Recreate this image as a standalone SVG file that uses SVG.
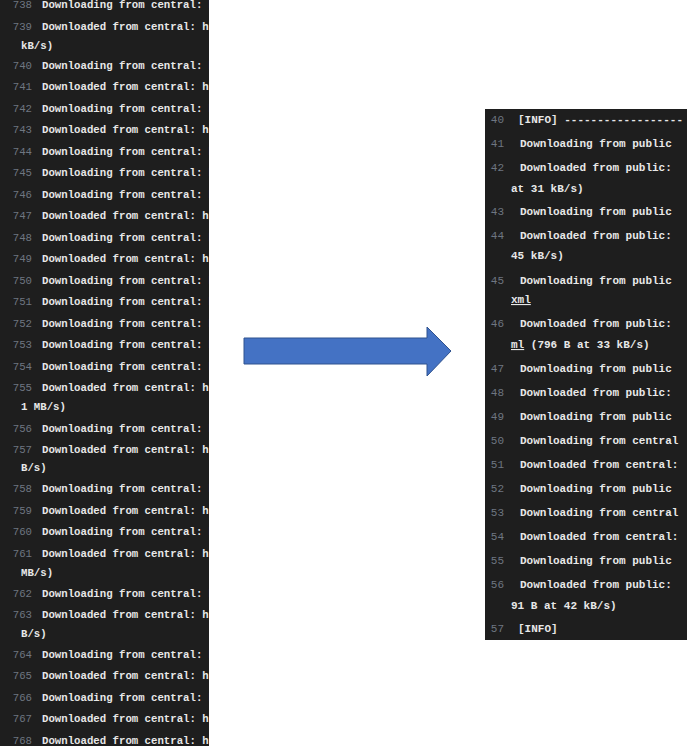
<svg xmlns="http://www.w3.org/2000/svg" width="687" height="746" viewBox="0 0 687 746">
<style>
.n{font-family:"Liberation Mono",monospace;font-size:10.7px;fill:#6e7681;text-anchor:end}
.t{font-family:"Liberation Mono",monospace;font-size:10.7px;fill:#e8e8e8;font-weight:bold}
.r{font-size:11px}
</style>
<defs>
<clipPath id="cl"><rect x="0" y="0" width="209" height="746"/></clipPath>
<clipPath id="cr"><rect x="485" y="109" width="202" height="531"/></clipPath>
</defs>
<rect width="687" height="746" fill="#ffffff"/>
<g id="left" clip-path="url(#cl)">
<rect x="0" y="0" width="209" height="746" fill="#1e1e1e"/>
<text class="n" x="32" y="8">738</text><text class="t" x="42" y="8">Downloading from central: h</text>
<text class="n" x="32" y="30">739</text><text class="t" x="42" y="30">Downloaded from central: h</text>
<text class="t" x="21" y="49">kB/s)</text>
<text class="n" x="32" y="69">740</text><text class="t" x="42" y="69">Downloading from central: h</text>
<text class="n" x="32" y="90">741</text><text class="t" x="42" y="90">Downloaded from central: h</text>
<text class="n" x="32" y="112">742</text><text class="t" x="42" y="112">Downloading from central: h</text>
<text class="n" x="32" y="133">743</text><text class="t" x="42" y="133">Downloaded from central: h</text>
<text class="n" x="32" y="155">744</text><text class="t" x="42" y="155">Downloading from central: h</text>
<text class="n" x="32" y="176">745</text><text class="t" x="42" y="176">Downloading from central: h</text>
<text class="n" x="32" y="198">746</text><text class="t" x="42" y="198">Downloading from central: h</text>
<text class="n" x="32" y="219">747</text><text class="t" x="42" y="219">Downloaded from central: h</text>
<text class="n" x="32" y="241">748</text><text class="t" x="42" y="241">Downloading from central: h</text>
<text class="n" x="32" y="262">749</text><text class="t" x="42" y="262">Downloaded from central: h</text>
<text class="n" x="32" y="284">750</text><text class="t" x="42" y="284">Downloading from central: h</text>
<text class="n" x="32" y="305">751</text><text class="t" x="42" y="305">Downloading from central: h</text>
<text class="n" x="32" y="327">752</text><text class="t" x="42" y="327">Downloading from central: h</text>
<text class="n" x="32" y="348">753</text><text class="t" x="42" y="348">Downloading from central: h</text>
<text class="n" x="32" y="370">754</text><text class="t" x="42" y="370">Downloading from central: h</text>
<text class="n" x="32" y="391">755</text><text class="t" x="42" y="391">Downloaded from central: h</text>
<text class="t" x="21" y="410">1 MB/s)</text>
<text class="n" x="32" y="432">756</text><text class="t" x="42" y="432">Downloading from central: h</text>
<text class="n" x="32" y="453">757</text><text class="t" x="42" y="453">Downloaded from central: h</text>
<text class="t" x="21" y="471">B/s)</text>
<text class="n" x="32" y="492">758</text><text class="t" x="42" y="492">Downloading from central: h</text>
<text class="n" x="32" y="514">759</text><text class="t" x="42" y="514">Downloaded from central: h</text>
<text class="n" x="32" y="535">760</text><text class="t" x="42" y="535">Downloading from central: h</text>
<text class="n" x="32" y="557">761</text><text class="t" x="42" y="557">Downloaded from central: h</text>
<text class="t" x="21" y="576">MB/s)</text>
<text class="n" x="32" y="597">762</text><text class="t" x="42" y="597">Downloading from central: h</text>
<text class="n" x="32" y="618">763</text><text class="t" x="42" y="618">Downloaded from central: h</text>
<text class="t" x="21" y="637">B/s)</text>
<text class="n" x="32" y="658">764</text><text class="t" x="42" y="658">Downloading from central: h</text>
<text class="n" x="32" y="679">765</text><text class="t" x="42" y="679">Downloaded from central: h</text>
<text class="n" x="32" y="701">766</text><text class="t" x="42" y="701">Downloading from central: h</text>
<text class="n" x="32" y="722">767</text><text class="t" x="42" y="722">Downloaded from central: h</text>
<text class="n" x="32" y="744">768</text><text class="t" x="42" y="744">Downloaded from central: h</text>
</g>
<g id="arrow">
<path d="M244,338 H427 V327 L451,351 L427,376 V364 H244 Z" fill="#4472c4" stroke="#2f528f" stroke-width="1"/>
</g>
<g id="right" clip-path="url(#cr)">
<rect x="485" y="109" width="202" height="531" fill="#1e1e1e"/>
<text class="n r" x="504" y="123">40</text><text class="t r" x="518" y="123">[INFO] ------------------</text>
<text class="n r" x="504" y="147">41</text><text class="t r" x="520" y="147">Downloading from public</text>
<text class="n r" x="504" y="171">42</text><text class="t r" x="520" y="171">Downloaded from public:</text>
<text class="t r" x="511" y="192">at 31 kB/s)</text>
<text class="n r" x="504" y="215">43</text><text class="t r" x="520" y="215">Downloading from public</text>
<text class="n r" x="504" y="239">44</text><text class="t r" x="520" y="239">Downloaded from public:</text>
<text class="t r" x="511" y="259">45 kB/s)</text>
<text class="n r" x="504" y="284">45</text><text class="t r" x="520" y="284">Downloading from public</text>
<text class="t r" x="511" y="303" text-decoration="underline">xml</text>
<text class="n r" x="504" y="327">46</text><text class="t r" x="520" y="327">Downloaded from public:</text>
<text class="t r" x="511" y="348"><tspan text-decoration="underline">ml</tspan> (796 B at 33 kB/s)</text>
<text class="n r" x="504" y="372">47</text><text class="t r" x="520" y="372">Downloading from public</text>
<text class="n r" x="504" y="396">48</text><text class="t r" x="520" y="396">Downloaded from public:</text>
<text class="n r" x="504" y="420">49</text><text class="t r" x="520" y="420">Downloading from public</text>
<text class="n r" x="504" y="444">50</text><text class="t r" x="520" y="444">Downloading from central</text>
<text class="n r" x="504" y="468">51</text><text class="t r" x="520" y="468">Downloaded from central:</text>
<text class="n r" x="504" y="492">52</text><text class="t r" x="520" y="492">Downloading from public</text>
<text class="n r" x="504" y="516">53</text><text class="t r" x="520" y="516">Downloading from central</text>
<text class="n r" x="504" y="540">54</text><text class="t r" x="520" y="540">Downloaded from central:</text>
<text class="n r" x="504" y="564">55</text><text class="t r" x="520" y="564">Downloading from public</text>
<text class="n r" x="504" y="588">56</text><text class="t r" x="520" y="588">Downloaded from public:</text>
<text class="t r" x="511" y="609">91 B at 42 kB/s)</text>
<text class="n r" x="504" y="632">57</text><text class="t r" x="518" y="632">[INFO]</text>
</g>
</svg>
